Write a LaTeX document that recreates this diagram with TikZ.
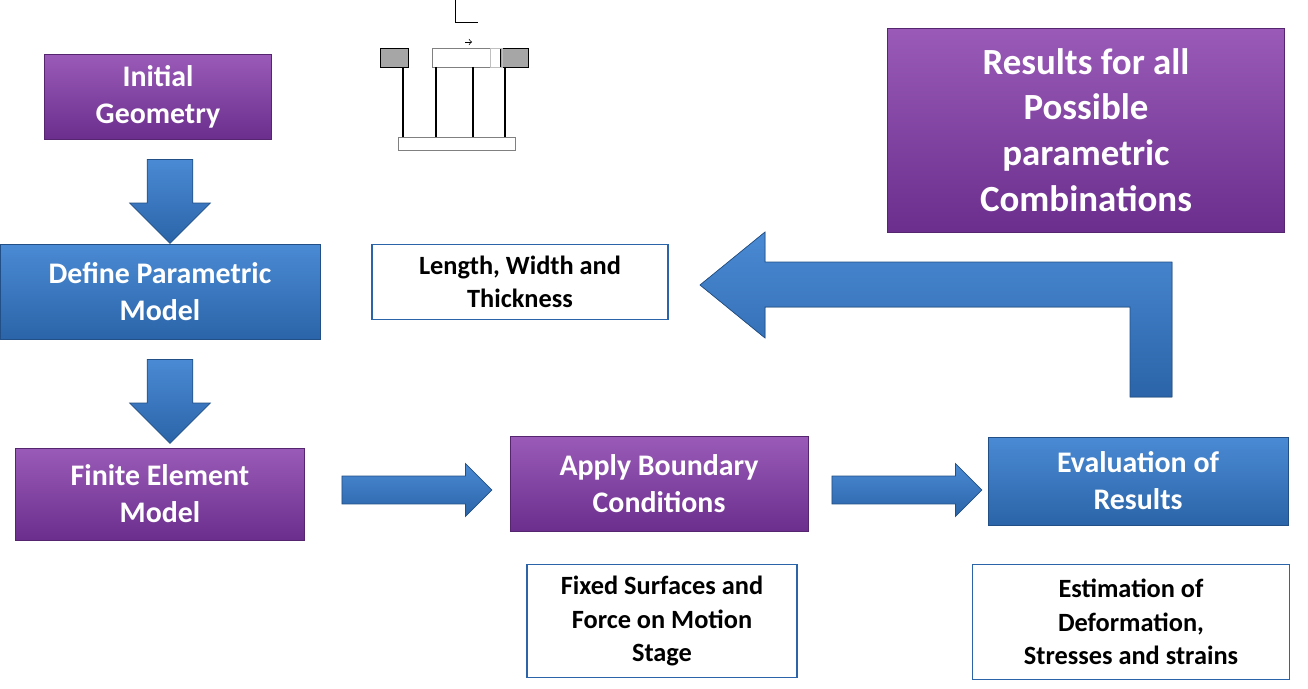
\documentclass[tikz,border=0pt]{standalone}
\usepackage{fontspec}
\setmainfont{Carlito}
\usetikzlibrary{shapes.arrows}
\definecolor{purpTop}{HTML}{9A5BB8}
\definecolor{purpBot}{HTML}{6B2E8C}
\definecolor{blueTop}{HTML}{4A8AD4}
\definecolor{blueBot}{HTML}{2B64A8}
\tikzset{
  purp/.style={top color=purpTop, bottom color=purpBot, draw=purpBot!80!black, text=white,
    font=\fontsize{17}{21}\selectfont\bfseries, align=center, inner sep=2pt},
  bluebox/.style={top color=blueTop, bottom color=blueBot, draw=blueBot!80!black, text=white,
    font=\fontsize{17}{21}\selectfont\bfseries, align=center, inner sep=2pt},
  note/.style={draw=blueBot, line width=1pt, fill=white, text=black,
    font=\fontsize{15}{19}\selectfont\bfseries, align=center, inner sep=2pt},
  blockarrow/.style={single arrow, top color=blueTop, bottom color=blueBot, draw=blueBot!80!black},
  downarrow/.style={blockarrow, shape border rotate=270, minimum height=1.68cm, minimum width=1.6cm,
    inner sep=0.45cm, single arrow head extend=0.35cm},
  rightarrow/.style={blockarrow, minimum height=3cm, minimum width=1.06cm,
    inner sep=0.27cm, single arrow head extend=0.25cm},
}
\begin{document}
\begin{tikzpicture}[x=0.02cm, y=-0.02cm]
\useasboundingbox (0,0) rectangle (1308,689);
% boxes
\node[purp, minimum width=4.54cm, minimum height=1.7cm] (geom) at (158,97) {Initial\\Geometry};
\node[bluebox, minimum width=6.4cm, minimum height=1.9cm] (param) at (160,292) {Define Parametric\\Model};
\node[purp, minimum width=5.78cm, minimum height=1.84cm] (fem) at (160,494) {Finite Element\\Model};
\node[purp, minimum width=5.96cm, minimum height=1.9cm] (bc) at (659,484) {Apply Boundary\\Conditions};
\node[bluebox, minimum width=6cm, minimum height=1.76cm] (eval) at (1138,481) {Evaluation of\\Results};
\node[purp, minimum width=7.94cm, minimum height=4.08cm, font=\fontsize{21}{26}\selectfont\bfseries] (res) at (1086,130)
  {Results for all\\Possible\\parametric\\Combinations};
\node[note, minimum width=5.92cm, minimum height=1.5cm] (dims) at (520,282) {Length, Width and\\Thickness};
\node[note, minimum width=5.4cm, minimum height=2.26cm] (fixed) at (662,621) {Fixed Surfaces and\\Force on Motion\\Stage};
\node[note, minimum width=6.34cm, minimum height=2.3cm] (estim) at (1131,622) {Estimation of\\Deformation,\\Stresses and strains};
% block arrows
\node[downarrow] (a1) at (170,190) {};
\node[downarrow] (a2) at (170,390) {};
\node[rightarrow] (a3) at (410,490) {};
\node[rightarrow] (a4) at (900,490) {};
% feedback arrow
\fill[top color=blueTop, bottom color=blueBot, draw=blueBot!80!black]
  (1130,397) -- (1130,307) -- (765,307) -- (765,338) -- (700,285) -- (765,232)
  -- (765,262) -- (1172,262) -- (1172,397) -- cycle;
% sketch
\begin{scope}[line width=0.4pt, draw=gray]
  \fill[gray!70, draw=black] (380,48) rectangle (408,67);
  \fill[gray!70, draw=black] (500,48) rectangle (528,67);
  \draw (432,48) rectangle (490,67);
  \draw[gray!50] (490,48) rectangle (502,67);
  \foreach \bx in {403,436,473,505}
    \draw[black, line width=1pt] (\bx,67) -- (\bx,138);
  \draw (398,137) rectangle (515,150);
  \draw[black] (455,0) -- (455,22) -- (478,22);
  \draw[black, ->] (465,42) -- (472,42);
\end{scope}
\end{tikzpicture}
\end{document}
